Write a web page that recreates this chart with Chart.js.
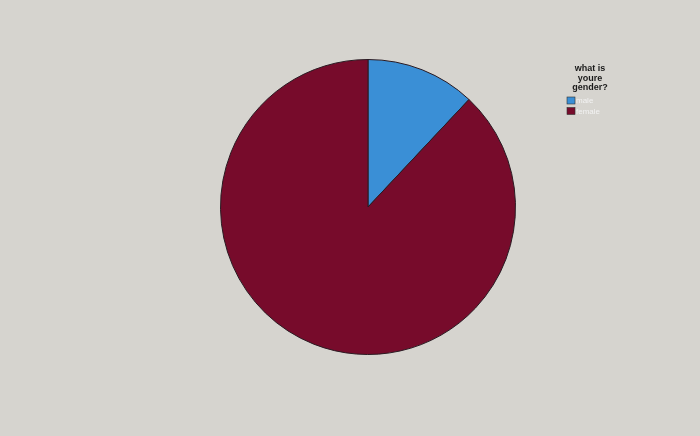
<!DOCTYPE html>
<html>
<head>
<meta charset="utf-8">
<script src="https://cdn.jsdelivr.net/npm/chart.js@4/dist/chart.umd.min.js"></script>
<style>
  html, body { margin: 0; padding: 0; background: #d6d4cf; }
  #wrap { width: 700px; height: 436px; }
</style>
</head>
<body>
<div id="wrap"><canvas id="pie" width="700" height="436"></canvas></div>
<script>
// data
const labels = ['male', 'female'];
const values = [12, 88];
const colors = ['#3a8fd6', '#770b2b'];
const legendTitle = ['what is', 'youre', 'gender?'];

// legend drawn next to the pie, like the old SPSS output
const sideLegend = {
  id: 'sideLegend',
  afterDraw(chart) {
    const ctx = chart.ctx;
    ctx.save();
    ctx.font = 'bold 9px "Liberation Sans", Arial, sans-serif';
    ctx.fillStyle = '#1a1a1a';
    ctx.textAlign = 'center';
    ctx.textBaseline = 'middle';
    legendTitle.forEach((t, i) => ctx.fillText(t, 590, 69 + i * 9.5));
    ctx.textAlign = 'left';
    ctx.font = '8px "Liberation Sans", Arial, sans-serif';
    chart.data.labels.forEach((lab, i) => {
      const y = 101 + i * 10.5;
      ctx.fillStyle = chart.data.datasets[0].backgroundColor[i];
      ctx.fillRect(567, y - 4, 8, 7);
      ctx.strokeStyle = '#333';
      ctx.lineWidth = 0.6;
      ctx.strokeRect(567, y - 4, 8, 7);
      ctx.fillStyle = '#f2f2f2';
      ctx.fillText(lab, 576, y);
    });
    ctx.restore();
  }
};

new Chart(document.getElementById('pie'), {
  type: 'pie',
  data: {
    labels: labels,
    datasets: [{
      data: values,
      backgroundColor: colors,
      borderColor: '#2a1a22',
      borderWidth: 1
    }]
  },
  options: {
    responsive: false,
    animation: false,
    layout: { padding: { left: 200, right: 164, top: 59, bottom: 81 } },
    plugins: {
      legend: { display: false },
      tooltip: { enabled: false }
    }
  },
  plugins: [sideLegend]
});
</script>
</body>
</html>
